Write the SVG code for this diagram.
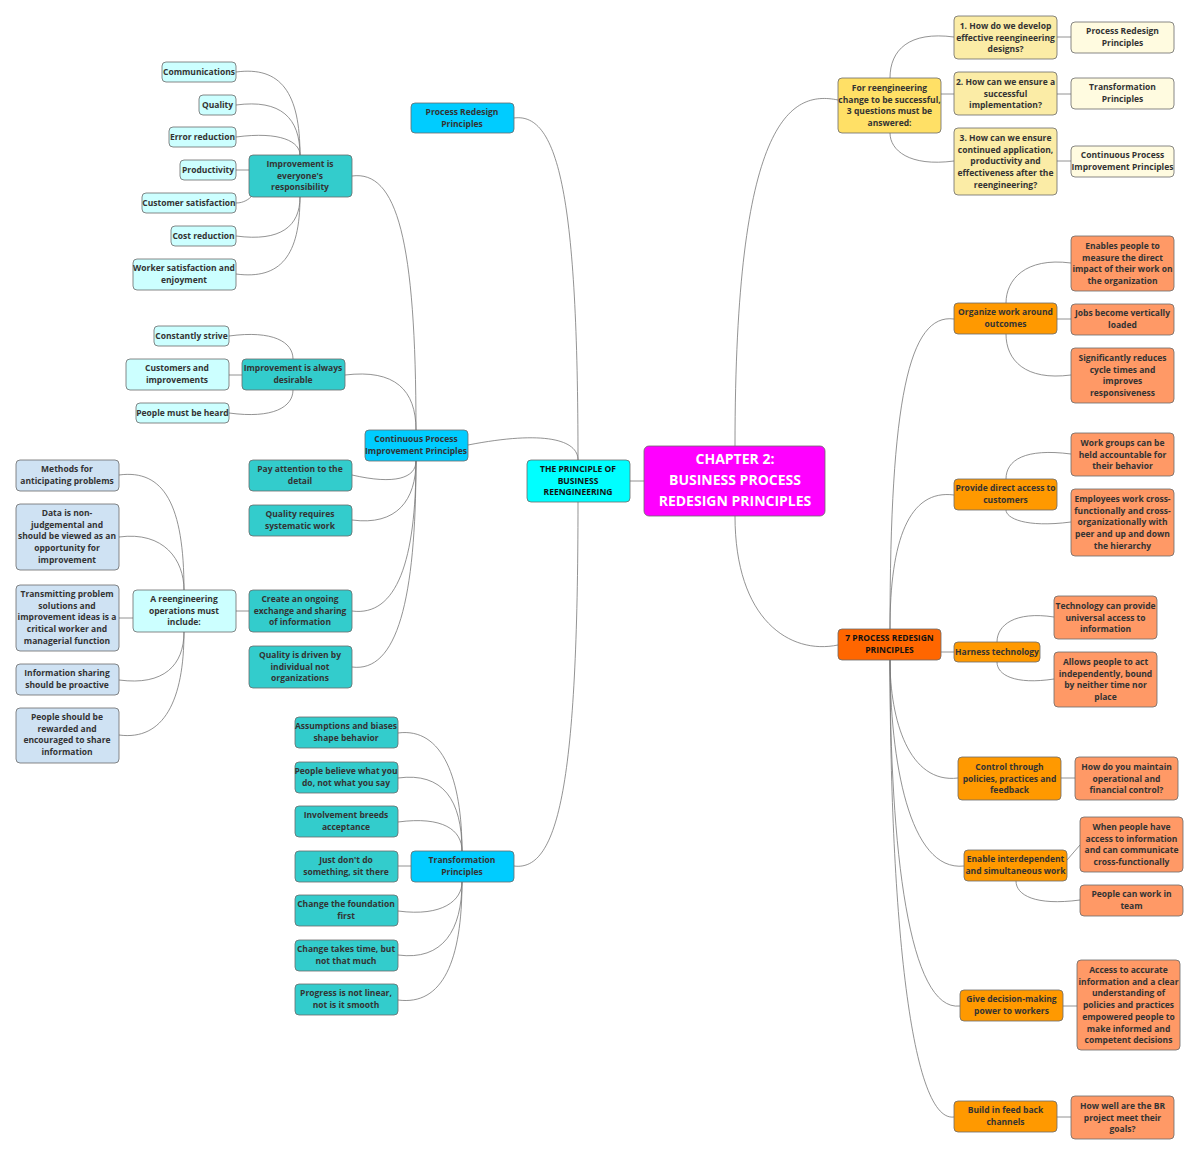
<svg xmlns="http://www.w3.org/2000/svg" width="1200" height="1156" viewBox="0 0 1200 1156">
<style>
rect{stroke:#6a6a6a;stroke-width:0.8}
text{font-family:"Open Sans","Noto Sans",sans-serif;font-weight:bold;font-size:8.5px;fill:#333;text-anchor:middle}
.c path{fill:none;stroke:#777;stroke-width:0.8}
.l2{fill:#00ccff}.tl{fill:#33cccc}.lc{fill:#ccffff}.lb{fill:#cfe2f3}.y1{fill:#ffe066}.y2{fill:#fbeca6}.y3{fill:#fffbe0}.o1{fill:#ff9900}.o2{fill:#ff9966}
</style>
<rect width="1200" height="1156" fill="#fff" style="stroke:none"/>
<g class="c">
<path d="M236,72 C281,66 300,93 300,155"/><path d="M236,105 C281,99 300,118 300,155"/><path d="M236,137 C281,131 300,142 300,155"/><path d="M236,170 L249,170"/><path d="M236,203 C244,203 249,199 252,196"/><path d="M236,236 C281,242 300,226 300,197"/><path d="M236,274 C281,280 300,255 300,197"/>
<path d="M229,336 C273,330 293,342 293,359"/><path d="M229,375 L242,375"/><path d="M229,413 C273,419 293,407 293,390"/>
<path d="M352,176 C397,170 416,240 416,430"/><path d="M345,375 C395,369 416,390 416,430"/><path d="M352,475 C395,485 416,478 416,461"/><path d="M352,520 C397,526 416,500 416,461"/><path d="M352,611 C397,617 416,560 416,461"/><path d="M352,667 C397,673 416,600 416,461"/>
<path d="M236,611 L249,611"/><path d="M119,475 C164,469 184,505 184,590"/><path d="M119,537 C164,531 184,560 184,590"/><path d="M119,618 L133,618"/><path d="M119,680 C164,686 184,665 184,632"/><path d="M119,735 C164,741 184,700 184,632"/>
<path d="M514,118 C559,112 578,200 578,460"/><path d="M468,445 C545,430 578,440 578,460"/><path d="M514,866 C559,872 578,780 578,502"/>
<path d="M398,733 C443,727 462,780 462,851"/><path d="M398,778 C443,772 462,800 462,851"/><path d="M398,822 C443,816 462,830 462,851"/><path d="M398,866 L411,866"/><path d="M398,911 C443,917 462,900 462,882"/><path d="M398,955 C443,961 462,930 462,882"/><path d="M398,1000 C443,1006 462,960 462,882"/>
<path d="M630,481 L644,481"/><path d="M838,100 C790,90 735,120 735,446"/><path d="M838,645 C790,655 735,620 735,516"/>
<path d="M954,37 C909,31 890,50 890,78"/><path d="M941,94 L954,94"/><path d="M954,161 C909,167 890,150 890,133"/>
<path d="M1057,37 L1071,37"/><path d="M1057,94 L1071,94"/><path d="M1057,161 L1071,161"/>
<path d="M954,319 C909,313 890,400 890,629"/><path d="M954,495 C909,489 890,540 890,629"/><path d="M941,652 L954,652"/><path d="M958,778 C909,784 890,720 890,660"/><path d="M964,866 C909,872 890,760 890,660"/><path d="M960,1006 C909,1012 890,850 890,660"/><path d="M954,1117 C909,1123 890,900 890,660"/>
<path d="M1071,263 C1025,257 1006,280 1006,303"/><path d="M1057,319 L1071,319"/><path d="M1071,375 C1025,381 1006,360 1006,334"/>
<path d="M1071,454 C1025,448 1006,460 1006,479"/><path d="M1071,522 C1025,528 1006,518 1006,510"/>
<path d="M1054,617 C1015,611 997,625 997,642"/><path d="M1054,679 C1015,685 997,675 997,662"/>
<path d="M1061,778 L1075,778"/><path d="M1067,860 L1080,845"/><path d="M1080,900 C1035,906 1016,895 1016,881"/><path d="M1063,1006 L1077,1006"/><path d="M1057,1117 L1071,1117"/>
</g>
<g id="root"><rect x="644" y="446" width="181" height="70" rx="5" fill="#ff00ff"/><text x="735" y="464" style="font-size:14px;fill:#fff"><tspan x="735">CHAPTER 2:</tspan><tspan x="735" dy="21">BUSINESS PROCESS</tspan><tspan x="735" dy="21">REDESIGN PRINCIPLES</tspan></text></g>
<g id="n_principle"><rect x="527" y="460" width="103" height="42" rx="4" fill="#00ffff"/><text x="578" y="472" style="fill:#111"><tspan x="578">THE PRINCIPLE OF</tspan><tspan x="578" dy="11.7">BUSINESS</tspan><tspan x="578" dy="11.7">REENGINEERING</tspan></text></g>
<g id="n_prp"><rect class="l2" x="411" y="103" width="103" height="30" rx="4"/><text x="462" y="115"><tspan x="462">Process Redesign</tspan><tspan x="462" dy="11.7">Principles</tspan></text></g>
<g id="n_cpip"><rect class="l2" x="365" y="430" width="103" height="31" rx="4"/><text x="416" y="442"><tspan x="416">Continuous Process</tspan><tspan x="416" dy="11.7">Improvement Principles</tspan></text></g>
<g id="n_tp"><rect class="l2" x="411" y="851" width="103" height="31" rx="4"/><text x="462" y="863"><tspan x="462">Transformation</tspan><tspan x="462" dy="11.7">Principles</tspan></text></g>
<g id="n_ier"><rect class="tl" x="249" y="155" width="103" height="42" rx="4"/><text x="300" y="167"><tspan x="300">Improvement is</tspan><tspan x="300" dy="11.7">everyone's</tspan><tspan x="300" dy="11.7">responsibility</tspan></text></g>
<g id="n_iad"><rect class="tl" x="242" y="359" width="103" height="31" rx="4"/><text x="293" y="371"><tspan x="293">Improvement is always</tspan><tspan x="293" dy="11.7">desirable</tspan></text></g>
<g id="n_pad"><rect class="tl" x="249" y="460" width="103" height="31" rx="4"/><text x="300" y="472"><tspan x="300">Pay attention to the</tspan><tspan x="300" dy="11.7">detail</tspan></text></g>
<g id="n_qrs"><rect class="tl" x="249" y="505" width="103" height="31" rx="4"/><text x="300" y="517"><tspan x="300">Quality requires</tspan><tspan x="300" dy="11.7">systematic work</tspan></text></g>
<g id="n_coe"><rect class="tl" x="249" y="590" width="103" height="42" rx="4"/><text x="300" y="602"><tspan x="300">Create an ongoing</tspan><tspan x="300" dy="11.7">exchange and sharing</tspan><tspan x="300" dy="11.7">of information</tspan></text></g>
<g id="n_qdi"><rect class="tl" x="249" y="646" width="103" height="42" rx="4"/><text x="300" y="658"><tspan x="300">Quality is driven by</tspan><tspan x="300" dy="11.7">individual not</tspan><tspan x="300" dy="11.7">organizations</tspan></text></g>
<g id="n_aro"><rect class="lc" x="133" y="590" width="103" height="42" rx="4"/><text x="184" y="602"><tspan x="184">A reengineering</tspan><tspan x="184" dy="11.7">operations must</tspan><tspan x="184" dy="11.7">include:</tspan></text></g>
<g id="n_m1"><rect class="lb" x="16" y="460" width="103" height="31" rx="4"/><text x="67" y="472"><tspan x="67">Methods for</tspan><tspan x="67" dy="11.7">anticipating problems</tspan></text></g>
<g id="n_m2"><rect class="lb" x="16" y="504" width="103" height="66" rx="4"/><text x="67" y="516"><tspan x="67">Data is non-</tspan><tspan x="67" dy="11.7">judgemental and</tspan><tspan x="67" dy="11.7">should be viewed as an</tspan><tspan x="67" dy="11.7">opportunity for</tspan><tspan x="67" dy="11.7">improvement</tspan></text></g>
<g id="n_m3"><rect class="lb" x="16" y="585" width="103" height="66" rx="4"/><text x="67" y="597"><tspan x="67">Transmitting problem</tspan><tspan x="67" dy="11.7">solutions and</tspan><tspan x="67" dy="11.7">improvement ideas is a</tspan><tspan x="67" dy="11.7">critical worker and</tspan><tspan x="67" dy="11.7">managerial function</tspan></text></g>
<g id="n_m4"><rect class="lb" x="16" y="664" width="103" height="31" rx="4"/><text x="67" y="676"><tspan x="67">Information sharing</tspan><tspan x="67" dy="11.7">should be proactive</tspan></text></g>
<g id="n_m5"><rect class="lb" x="16" y="708" width="103" height="55" rx="4"/><text x="67" y="720"><tspan x="67">People should be</tspan><tspan x="67" dy="11.7">rewarded and</tspan><tspan x="67" dy="11.7">encouraged to share</tspan><tspan x="67" dy="11.7">information</tspan></text></g>
<g id="n_e1"><rect class="lc" x="162" y="62" width="74" height="20" rx="4"/><text x="199" y="75">Communications</text></g>
<g id="n_e2"><rect class="lc" x="199" y="95" width="37" height="20" rx="4"/><text x="217.5" y="108">Quality</text></g>
<g id="n_e3"><rect class="lc" x="169" y="127" width="67" height="20" rx="4"/><text x="202.5" y="140">Error reduction</text></g>
<g id="n_e4"><rect class="lc" x="180" y="160" width="56" height="20" rx="4"/><text x="208" y="173">Productivity</text></g>
<g id="n_e5"><rect class="lc" x="142" y="193" width="94" height="20" rx="4"/><text x="189" y="206">Customer satisfaction</text></g>
<g id="n_e6"><rect class="lc" x="171" y="226" width="65" height="20" rx="4"/><text x="203.5" y="239">Cost reduction</text></g>
<g id="n_e7"><rect class="lc" x="133" y="259" width="103" height="31" rx="4"/><text x="184" y="271"><tspan x="184">Worker satisfaction and</tspan><tspan x="184" dy="11.7">enjoyment</tspan></text></g>
<g id="n_d1"><rect class="lc" x="154" y="326" width="75" height="20" rx="4"/><text x="191.5" y="339">Constantly strive</text></g>
<g id="n_d2"><rect class="lc" x="126" y="359" width="103" height="31" rx="4"/><text x="177" y="371"><tspan x="177">Customers and</tspan><tspan x="177" dy="11.7">improvements</tspan></text></g>
<g id="n_d3"><rect class="lc" x="136" y="403" width="93" height="20" rx="4"/><text x="182.5" y="416">People must be heard</text></g>
<g id="n_t1"><rect class="tl" x="295" y="717" width="103" height="31" rx="4"/><text x="346" y="729"><tspan x="346">Assumptions and biases</tspan><tspan x="346" dy="11.7">shape behavior</tspan></text></g>
<g id="n_t2"><rect class="tl" x="295" y="762" width="103" height="31" rx="4"/><text x="346" y="774"><tspan x="346">People believe what you</tspan><tspan x="346" dy="11.7">do, not what you say</tspan></text></g>
<g id="n_t3"><rect class="tl" x="295" y="806" width="103" height="31" rx="4"/><text x="346" y="818"><tspan x="346">Involvement breeds</tspan><tspan x="346" dy="11.7">acceptance</tspan></text></g>
<g id="n_t4"><rect class="tl" x="295" y="851" width="103" height="31" rx="4"/><text x="346" y="863"><tspan x="346">Just don't do</tspan><tspan x="346" dy="11.7">something, sit there</tspan></text></g>
<g id="n_t5"><rect class="tl" x="295" y="895" width="103" height="31" rx="4"/><text x="346" y="907"><tspan x="346">Change the foundation</tspan><tspan x="346" dy="11.7">first</tspan></text></g>
<g id="n_t6"><rect class="tl" x="295" y="940" width="103" height="31" rx="4"/><text x="346" y="952"><tspan x="346">Change takes time, but</tspan><tspan x="346" dy="11.7">not that much</tspan></text></g>
<g id="n_t7"><rect class="tl" x="295" y="984" width="103" height="31" rx="4"/><text x="346" y="996"><tspan x="346">Progress is not linear,</tspan><tspan x="346" dy="11.7">not is it smooth</tspan></text></g>
<g id="n_for"><rect class="y1" x="838" y="78" width="103" height="55" rx="4"/><text x="889.5" y="91"><tspan x="889.5">For reengineering</tspan><tspan x="889.5" dy="11.7">change to be successful,</tspan><tspan x="889.5" dy="11.7">3 questions must be</tspan><tspan x="889.5" dy="11.7">answered:</tspan></text></g>
<g id="n_q1"><rect class="y2" x="954" y="16" width="103" height="43" rx="4"/><text x="1005.5" y="29"><tspan x="1005.5">1. How do we develop</tspan><tspan x="1005.5" dy="11.7">effective reengineering</tspan><tspan x="1005.5" dy="11.7">designs?</tspan></text></g>
<g id="n_q2"><rect class="y2" x="954" y="72" width="103" height="43" rx="4"/><text x="1005.5" y="85"><tspan x="1005.5">2. How can we ensure a</tspan><tspan x="1005.5" dy="11.7">successful</tspan><tspan x="1005.5" dy="11.7">implementation?</tspan></text></g>
<g id="n_q3"><rect class="y2" x="954" y="128" width="103" height="67" rx="4"/><text x="1005.5" y="141"><tspan x="1005.5">3. How can we ensure</tspan><tspan x="1005.5" dy="11.7">continued application,</tspan><tspan x="1005.5" dy="11.7">productivity and</tspan><tspan x="1005.5" dy="11.7">effectiveness after the</tspan><tspan x="1005.5" dy="11.7">reengineering?</tspan></text></g>
<g id="n_a1"><rect class="y3" x="1071" y="22" width="103" height="31" rx="4"/><text x="1122.5" y="34"><tspan x="1122.5">Process Redesign</tspan><tspan x="1122.5" dy="11.7">Principles</tspan></text></g>
<g id="n_a2"><rect class="y3" x="1071" y="78" width="103" height="31" rx="4"/><text x="1122.5" y="90"><tspan x="1122.5">Transformation</tspan><tspan x="1122.5" dy="11.7">Principles</tspan></text></g>
<g id="n_a3"><rect class="y3" x="1071" y="146" width="103" height="31" rx="4"/><text x="1122.5" y="158"><tspan x="1122.5">Continuous Process</tspan><tspan x="1122.5" dy="11.7">Improvement Principles</tspan></text></g>
<g id="n_7p"><rect x="838" y="629" width="103" height="31" rx="4" fill="#ff6600"/><text x="889.5" y="641" style="fill:#111"><tspan x="889.5">7 PROCESS REDESIGN</tspan><tspan x="889.5" dy="11.7">PRINCIPLES</tspan></text></g>
<g id="n_o1"><rect class="o1" x="954" y="303" width="103" height="31" rx="4"/><text x="1005.5" y="315"><tspan x="1005.5">Organize work around</tspan><tspan x="1005.5" dy="11.7">outcomes</tspan></text></g>
<g id="n_o2"><rect class="o1" x="954" y="479" width="103" height="31" rx="4"/><text x="1005.5" y="491"><tspan x="1005.5">Provide direct access to</tspan><tspan x="1005.5" dy="11.7">customers</tspan></text></g>
<g id="n_o3"><rect class="o1" x="954" y="642" width="86" height="20" rx="4"/><text x="997" y="655">Harness technology</text></g>
<g id="n_o4"><rect class="o1" x="958" y="757" width="103" height="43" rx="4"/><text x="1009.5" y="770"><tspan x="1009.5">Control through</tspan><tspan x="1009.5" dy="11.7">policies, practices and</tspan><tspan x="1009.5" dy="11.7">feedback</tspan></text></g>
<g id="n_o5"><rect class="o1" x="964" y="850" width="103" height="31" rx="4"/><text x="1015.5" y="862"><tspan x="1015.5">Enable interdependent</tspan><tspan x="1015.5" dy="11.7">and simultaneous work</tspan></text></g>
<g id="n_o6"><rect class="o1" x="960" y="990" width="103" height="31" rx="4"/><text x="1011.5" y="1002"><tspan x="1011.5">Give decision-making</tspan><tspan x="1011.5" dy="11.7">power to workers</tspan></text></g>
<g id="n_o7"><rect class="o1" x="954" y="1101" width="103" height="31" rx="4"/><text x="1005.5" y="1113"><tspan x="1005.5">Build in feed back</tspan><tspan x="1005.5" dy="11.7">channels</tspan></text></g>
<g id="n_s1"><rect class="o2" x="1071" y="236" width="103" height="55" rx="4"/><text x="1122.5" y="249"><tspan x="1122.5">Enables people to</tspan><tspan x="1122.5" dy="11.7">measure the direct</tspan><tspan x="1122.5" dy="11.7">impact of their work on</tspan><tspan x="1122.5" dy="11.7">the organization</tspan></text></g>
<g id="n_s2"><rect class="o2" x="1071" y="304" width="103" height="31" rx="4"/><text x="1122.5" y="316"><tspan x="1122.5">Jobs become vertically</tspan><tspan x="1122.5" dy="11.7">loaded</tspan></text></g>
<g id="n_s3"><rect class="o2" x="1071" y="348" width="103" height="55" rx="4"/><text x="1122.5" y="361"><tspan x="1122.5">Significantly reduces</tspan><tspan x="1122.5" dy="11.7">cycle times and</tspan><tspan x="1122.5" dy="11.7">improves</tspan><tspan x="1122.5" dy="11.7">responsiveness</tspan></text></g>
<g id="n_s4"><rect class="o2" x="1071" y="433" width="103" height="43" rx="4"/><text x="1122.5" y="446"><tspan x="1122.5">Work groups can be</tspan><tspan x="1122.5" dy="11.7">held accountable for</tspan><tspan x="1122.5" dy="11.7">their behavior</tspan></text></g>
<g id="n_s5"><rect class="o2" x="1071" y="489" width="103" height="67" rx="4"/><text x="1122.5" y="502"><tspan x="1122.5">Employees work cross-</tspan><tspan x="1122.5" dy="11.7">functionally and cross-</tspan><tspan x="1122.5" dy="11.7">organizationally with</tspan><tspan x="1122.5" dy="11.7">peer and up and down</tspan><tspan x="1122.5" dy="11.7">the hierarchy</tspan></text></g>
<g id="n_s6"><rect class="o2" x="1054" y="596" width="103" height="43" rx="4"/><text x="1105.5" y="609"><tspan x="1105.5">Technology can provide</tspan><tspan x="1105.5" dy="11.7">universal access to</tspan><tspan x="1105.5" dy="11.7">information</tspan></text></g>
<g id="n_s7"><rect class="o2" x="1054" y="652" width="103" height="55" rx="4"/><text x="1105.5" y="665"><tspan x="1105.5">Allows people to act</tspan><tspan x="1105.5" dy="11.7">independently, bound</tspan><tspan x="1105.5" dy="11.7">by neither time nor</tspan><tspan x="1105.5" dy="11.7">place</tspan></text></g>
<g id="n_s8"><rect class="o2" x="1075" y="757" width="103" height="43" rx="4"/><text x="1126.5" y="770"><tspan x="1126.5">How do you maintain</tspan><tspan x="1126.5" dy="11.7">operational and</tspan><tspan x="1126.5" dy="11.7">financial control?</tspan></text></g>
<g id="n_s9"><rect class="o2" x="1080" y="817" width="103" height="55" rx="4"/><text x="1131.5" y="830"><tspan x="1131.5">When people have</tspan><tspan x="1131.5" dy="11.7">access to information</tspan><tspan x="1131.5" dy="11.7">and can communicate</tspan><tspan x="1131.5" dy="11.7">cross-functionally</tspan></text></g>
<g id="n_s10"><rect class="o2" x="1080" y="885" width="103" height="31" rx="4"/><text x="1131.5" y="897"><tspan x="1131.5">People can work in</tspan><tspan x="1131.5" dy="11.7">team</tspan></text></g>
<g id="n_s11"><rect class="o2" x="1077" y="960" width="103" height="90" rx="4"/><text x="1128.5" y="973"><tspan x="1128.5">Access to accurate</tspan><tspan x="1128.5" dy="11.7">information and a clear</tspan><tspan x="1128.5" dy="11.7">understanding of</tspan><tspan x="1128.5" dy="11.7">policies and practices</tspan><tspan x="1128.5" dy="11.7">empowered people to</tspan><tspan x="1128.5" dy="11.7">make informed and</tspan><tspan x="1128.5" dy="11.7">competent decisions</tspan></text></g>
<g id="n_s12"><rect class="o2" x="1071" y="1096" width="103" height="43" rx="4"/><text x="1122.5" y="1109"><tspan x="1122.5">How well are the BR</tspan><tspan x="1122.5" dy="11.7">project meet their</tspan><tspan x="1122.5" dy="11.7">goals?</tspan></text></g>
</svg>
